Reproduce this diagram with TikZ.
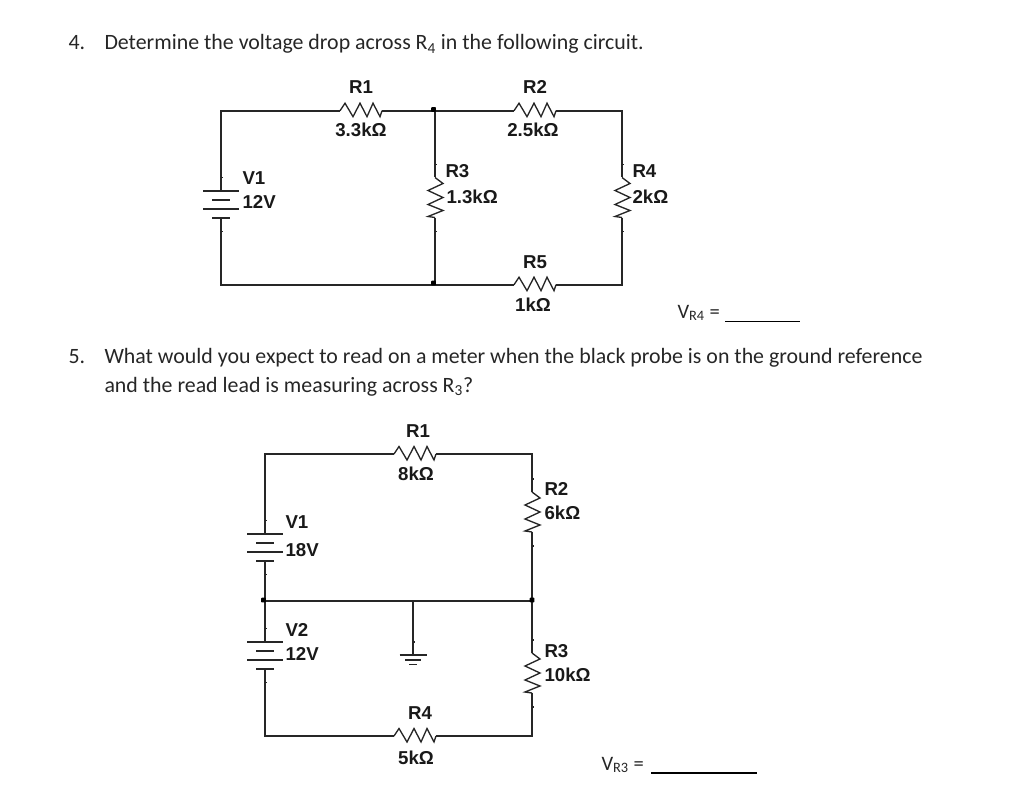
\documentclass[tikz,border=0pt]{standalone}
\usepackage{fontspec}
\setmainfont{Carlito}
\newfontfamily\lblfont{Liberation Sans}[Scale=1]

\tikzset{every picture/.style={line width=0.75pt}}
\tikzset{
	wire/.style={line width=1.4pt,color=black!85},
	thin wire/.style={line width=1pt,color=black!85},
	prose/.style={anchor=base west,inner sep=0pt,font=\fontsize{16.4}{18}\selectfont,color=black!85},
	lbl/.style={inner sep=0pt,font=\lblfont\bfseries\fontsize{14}{15}\selectfont,color=black!90},
	lblw/.style={lbl,anchor=base west},
	lblc/.style={lbl,anchor=base},
	dotj/.style={fill=black,draw=none,minimum size=3.6pt,inner sep=0pt,rounded corners=0.6pt},
	every pic/.style={yscale=-1},
	pics/reshor/.style={code={
		\coordinate (a) at (-21,0);
		\coordinate (b) at (21,0);
		\draw [thin wire] (a) -- (-16,-7.5) -- (-8,6) -- (-1,-7.5) -- (6,6) -- (12,-7.5) -- (19,6) -- (b);
	}},
	pics/resver/.style={code={
		\coordinate (a) at (0,-20);
		\coordinate (b) at (0,20);
		\draw [thin wire] (a) -- (8,-14) -- (-7,-7) -- (8,0) -- (-7,7) -- (8,13) -- (-7,19) -- (b);
		\draw [thin wire] (0,-33) -- (1.5,-33) (0,34) -- (1.5,34);
	}},
	pics/batt/.style={code={
		\coordinate (a) at (0,-13.5);
		\coordinate (b) at (0,13.5);
		\draw [thin wire] (-18,-13.5) -- (18,-13.5) (-9,-4.5) -- (9,-4.5) (-18,4.5) -- (18,4.5) (-9,13.5) -- (9,13.5);
		\draw [thin wire] (0,-27) -- (1.5,-27) (0,27) -- (1.5,27);
	}},
	pics/gndsym/.style={code={
		\coordinate (a) at (0,0);
		\draw [thin wire] (-13.5,0) -- (13.5,0) (-8,5) -- (8,5) (-4,9.5) -- (4,9.5);
		\draw [thin wire] (0,-13) -- (1.5,-13);
	}},
}

\begin{document}
\begin{tikzpicture}[x=0.75pt,y=0.75pt,yscale=-1,xscale=1]
	\useasboundingbox (0,0) rectangle (1024,788);

	% Question 4
	\node [prose] (qa) at (68,50) {4.};
	\node [prose] (qb) at (104,50) {Determine the voltage drop across R\textsubscript{4} in the following circuit.};

	%Corners
	\coordinate (tl) at (221,110.7);
	\coordinate (tm) at (435,110.7);
	\coordinate (tr) at (622,110.7);
	\coordinate (bl) at (221,284.7);
	\coordinate (bm) at (435,284.7);
	\coordinate (br) at (622,284.7);

	%Parts
	\pic (ra-) at (361,110.7) {reshor};
	\pic (rb-) at (535,110.7) {reshor};
	\pic (rc-) at (435,197.5) {resver};
	\pic (rd-) at (622,197.5) {resver};
	\pic (re-) at (535,284.7) {reshor};
	\pic (va-) at (221,204.5) {batt};

	%Wires
	\draw [wire] (va-a) -- (tl) -- (ra-a);
	\draw [wire] (ra-b) -- (tm) -- (rb-a);
	\draw [wire] (rb-b) -- (tr) -- (rd-a);
	\draw [wire] (rd-b) -- (br) -- (re-b);
	\draw [wire] (re-a) -- (bm) -- (bl) -- (va-b);
	\draw [wire] (tm) -- (rc-a);
	\draw [wire] (rc-b) -- (bm);

	\node [dotj] (ja) at (433.5,109.5) {};
	\node [dotj] (jb) at (433.5,283) {};

	% Text Node
	\node [lblc] (ra-n) at (361,94) {R1};
	\node [lblc] (ra-v) at (361,137) {3.3kΩ};
	\node [lblc] (rb-n) at (535,94) {R2};
	\node [lblc] (rb-v) at (533,137) {2.5kΩ};
	\node [lblw] (rc-n) at (445,178) {R3};
	\node [lblw] (rc-v) at (446,204) {1.3kΩ};
	\node [lblw] (rd-n) at (632,178) {R4};
	\node [lblw] (rd-v) at (632,204) {2kΩ};
	\node [lblc] (re-n) at (535,268) {R5};
	\node [lblc] (re-v) at (533,311) {1kΩ};
	\node [lblw] (va-n) at (242,185) {V1};
	\node [lblw] (va-v) at (242,209) {12V};

	\node [prose,font=\fontsize{15.4}{18}\selectfont] (vra) at (677,318) {V\textsubscript{R4} =};
	\coordinate (vra-e) at (800,321.5);
	\draw [line width=0.9pt] (725,321.5) -- (vra-e);

	% Question 5
	\node [prose] (qc) at (68,363) {5.};
	\node [prose] (qd) at (104,363) {What would you expect to read on a meter when the black probe is on the ground reference};
	\node [prose] (qe) at (104,392) {and the read lead is measuring across R\textsubscript{3}?};

	%Corners
	\coordinate (ctl) at (265,454);
	\coordinate (ctr) at (532,454);
	\coordinate (cml) at (265,601);
	\coordinate (cmg) at (413,601);
	\coordinate (cmr) at (532,601);
	\coordinate (cbl) at (265,736);
	\coordinate (cbr) at (532,736);

	%Parts
	\pic (sa-) at (415,454) {reshor};
	\pic (sb-) at (532,512) {resver};
	\pic (sc-) at (532,673) {resver};
	\pic (sd-) at (415,736) {reshor};
	\pic (ua-) at (265,547.5) {batt};
	\pic (ub-) at (265,655.5) {batt};
	\pic (gn-) at (413,655) {gndsym};

	%Wires
	\draw [wire] (ua-a) -- (ctl) -- (sa-a);
	\draw [wire] (sa-b) -- (ctr) -- (sb-a);
	\draw [wire] (sb-b) -- (cmr) -- (sc-a);
	\draw [wire] (sc-b) -- (cbr) -- (sd-b);
	\draw [wire] (sd-a) -- (cbl) -- (ub-b);
	\draw [wire] (ub-a) -- (cml) -- (ua-b);
	\draw [wire] (cml) -- (cmr);
	\draw [wire] (cmg) -- (gn-a);

	\node [dotj] (jc) at (263.5,600) {};
	\node [dotj] (jd) at (532,600) {};

	% Text Node
	\node [lblc] (sa-n) at (418,437) {R1};
	\node [lblc] (sa-v) at (416,480) {8kΩ};
	\node [lblw] (sb-n) at (544,495) {R2};
	\node [lblw] (sb-v) at (544,519) {6kΩ};
	\node [lblw] (sc-n) at (544,657) {R3};
	\node [lblw] (sc-v) at (544,681) {10kΩ};
	\node [lblc] (sd-n) at (420,719) {R4};
	\node [lblc] (sd-v) at (416,764) {5kΩ};
	\node [lblw] (ua-n) at (285,528) {V1};
	\node [lblw] (ua-v) at (285,556) {18V};
	\node [lblw] (ub-n) at (285,636) {V2};
	\node [lblw] (ub-v) at (285,660) {12V};

	\node [prose,font=\fontsize{15.4}{18}\selectfont] (vrb) at (601,770) {V\textsubscript{R3} =};
	\coordinate (vrb-e) at (757,773);
	\draw [line width=0.9pt] (651,773) -- (vrb-e);
\end{tikzpicture}
\end{document}
